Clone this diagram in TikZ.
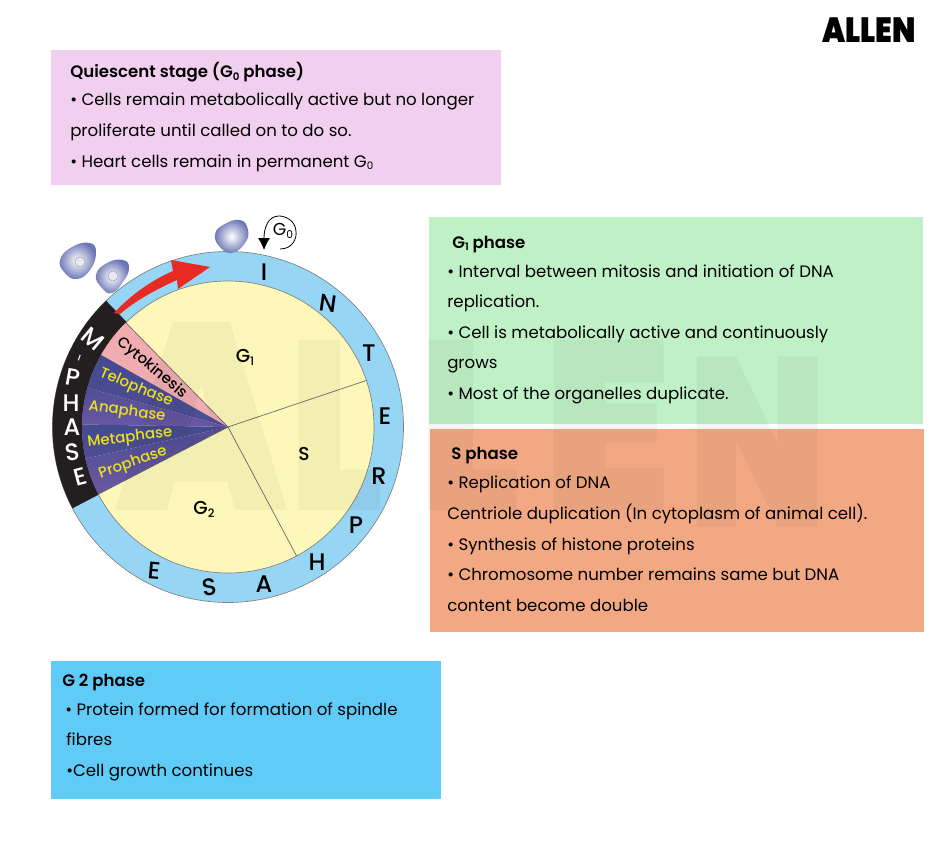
\documentclass[tikz,border=0pt]{standalone}
\usepackage{fontspec}
\setmainfont{Poppins}
\newfontfamily\semifont{Poppins SemiBold}
\newfontfamily\blackfont{Poppins Black}
\newfontfamily\medfont{Poppins Medium}
\usetikzlibrary{arrows.meta}
\definecolor{pinkbox}{HTML}{F1CFEE}
\definecolor{greenbox}{HTML}{C0F1C6}
\definecolor{orangebox}{HTML}{F2A983}
\definecolor{bluebox}{HTML}{5FCBF6}
\definecolor{ringblue}{HTML}{96D5F4}
\definecolor{discyellow}{HTML}{FDF8B9}
\definecolor{wedgepink}{HTML}{F1ACB2}
\definecolor{wedgedark}{HTML}{444A8E}
\definecolor{wedgemid}{HTML}{4F4E94}
\definecolor{wedgelight}{HTML}{6A57A4}
\definecolor{bandblack}{HTML}{231F20}
\definecolor{arrowred}{HTML}{E72A23}
\definecolor{labelyellow}{HTML}{E8E020}
\definecolor{cellblue}{HTML}{5B66AD}
\newcommand{\lowsub}[1]{\raisebox{-.3ex}{\scalebox{.62}{#1}}}
\tikzset{
  linetxt/.style={anchor=base west,inner sep=0pt,font=\fontsize{12.45}{12.45}\selectfont},
  headtxt/.style={linetxt,font=\fontsize{12.45}{12.45}\semifont},
  ringtxt/.style={inner sep=0pt,font=\fontsize{18}{18}\medfont},
  bandtxt/.style={inner sep=0pt,text=white,font=\fontsize{18}{18}\medfont},
  wedgetxt/.style={inner sep=0pt,text=labelyellow,font=\fontsize{11.2}{11.2}\medfont},
  disctxt/.style={inner sep=0pt,font=\fontsize{14}{14}\medfont},
  marktxt/.style={anchor=base west,inner sep=0pt,text=black,text opacity=.04,font=\fontsize{190}{190}\blackfont},
  cellblob/.style={inner color=white,outer color=cellblue!90!white,draw=none}
}
\begin{document}
\begin{tikzpicture}[x=0.75pt,y=-0.75pt]
    \useasboundingbox (0,0) rectangle (940,842);
    % boxes
    \fill[pinkbox] (51,50) rectangle (501,185);
    \fill[greenbox] (429,217) rectangle (923,424);
    \fill[orangebox] (430,429) rectangle (924,632);
    \fill[bluebox] (51,661) rectangle (441,799);
    % cell cycle wheel
    \begin{scope}[shift={(228,427)},y=0.75pt]
        \filldraw[fill=ringblue,draw=gray,line width=0.5pt] (0,0) circle[radius=175.5];
        \filldraw[fill=discyellow,draw=gray,line width=0.5pt] (0,0) circle[radius=146];
        \fill[bandblack] (134:146) arc[start angle=134,end angle=207.6,radius=146]
            -- (207.6:175.5) arc[start angle=207.6,end angle=134,radius=175.5] -- cycle;
        \fill[wedgepink] (0,0) -- (134.4:146) arc[start angle=134.4,end angle=150.4,radius=146] -- cycle;
        \foreach \from/\to/\ctop/\cbot in {150.4/164.5/wedgedark/wedgemid,164.5/179/wedgemid/wedgelight,179/192.5/wedgedark/wedgemid,192.5/207.4/wedgemid/wedgelight}
            \shade[top color=\ctop,bottom color=\cbot] (0,0) -- (\from:146) arc[start angle=\from,end angle=\to,radius=146] -- cycle;
        \draw[gray!80!black,line width=0.5pt] (134.4:146) -- (0,0) -- (18.6:146);
        \draw[gray!80!black,line width=0.5pt] (0,0) -- (-62:146);
        \draw[gray!80!black,line width=0.5pt] (0,0) -- (207.4:146);
    \end{scope}
    % red arrow
    \fill[arrowred] (114,313) .. controls (130,296) and (150,281) .. (173,271) -- (171,260) -- (210,267)
        -- (178,289) -- (177,280) .. controls (155,290) and (135,301) .. (120,314) -- cycle;
    % cells
    \shade[cellblob] plot[smooth cycle,tension=.8] coordinates {(60,260) (72,247) (90,243) (96,253) (90,270) (77,279) (65,273)};
    \shade[cellblob] plot[smooth cycle,tension=.8] coordinates {(96,275) (107,263) (123,260) (129,268) (123,282) (112,293) (102,288)};
    \shade[cellblob] plot[smooth cycle,tension=.8] coordinates {(215,235) (223,225) (240,220) (248,230) (245,243) (232,253) (220,247)};
    \filldraw[fill=white!85!cellblue,draw=gray!70,line width=0.4pt] (80,262) circle[radius=5];
    \filldraw[fill=white!85!cellblue,draw=gray!70,line width=0.4pt] (113,276) circle[radius=5];
    % G0 loop
    \coordinate (g0start) at (280,249);
    \coordinate (g0end) at (264,250);
    \draw[line width=0.6pt,-{Latex[length=9pt,width=9pt]}] (g0start) .. controls (293,249) and (297,238) .. (296,231)
        .. controls (295,220) and (285,216) .. (279,216) .. controls (268,216) and (264,228) .. (g0end);
    \node[disctxt,font=\fontsize{13}{13}\selectfont] (g0) at (283,231) {G\lowsub{0}};
    % watermark
    \node[marktxt,xscale=.88,yscale=1.05] (markA) at (115,510) {A};
    \node[marktxt,xscale=.74,yscale=.95] (markL) at (289,510) {L};
    \node[marktxt,xscale=.8,yscale=.95] (markLL) at (418,510) {L};
    \node[marktxt,xscale=.92,yscale=.95] (markE) at (542,510) {E};
    \node[marktxt,xscale=.7,yscale=.95] (markN) at (688,527) {N};
    % ring letters
    \node[ringtxt] (ltI) at (264,272) {I};
    \node[ringtxt,rotate=-8] (ltN) at (328,303) {N};
    \node[ringtxt] (ltT) at (369,353) {T};
    \node[ringtxt] (ltE) at (385,416) {E};
    \node[ringtxt] (ltR) at (379,476) {R};
    \node[ringtxt] (ltP) at (356,525) {P};
    \node[ringtxt] (ltH) at (317,562) {H};
    \node[ringtxt] (ltA) at (264,584) {A};
    \node[ringtxt,rotate=8] (ltS) at (210,587) {S};
    \node[ringtxt,rotate=-5] (ltEE) at (154,571) {E};
    % m phase band
    \node[bandtxt,rotate=-40] (bdM) at (93,339) {M};
    \node[bandtxt,rotate=70,font=\fontsize{11}{11}\selectfont] (bdDash) at (82,359) {-};
    \node[bandtxt,rotate=-10] (bdP) at (73,378) {P};
    \node[bandtxt] (bdH) at (71,403) {H};
    \node[bandtxt] (bdA) at (72,427) {A};
    \node[bandtxt,rotate=8] (bdS) at (73,452) {S};
    \node[bandtxt,rotate=15] (bdE) at (80,477) {E};
    % wedge labels
    \node[wedgetxt,text=black,rotate=-40] (wgCyto) at (152,368) {Cytokinesis};
    \node[wedgetxt,rotate=-23] (wgTelo) at (136,388) {Telophase};
    \node[wedgetxt,rotate=-8] (wgAna) at (127,412) {Anaphase};
    \node[wedgetxt,rotate=7] (wgMeta) at (130,438) {Metaphase};
    \node[wedgetxt,rotate=20] (wgPro) at (133,463) {Prophase};
    % disc labels
    \node[disctxt] (dcG1) at (245,357) {G\lowsub{1}};
    \node[disctxt] (dcS) at (304,454) {S};
    \node[disctxt] (dcG2) at (204,509) {G\lowsub{2}};
    % logo
    \node[anchor=base west,inner sep=0pt,xscale=.9,yscale=1.05,font=\fontsize{25}{25}\blackfont] (logo) at (822,43) {ALLEN};
    % pink box text
    \node[headtxt] (qsHead) at (70,78) {Quiescent stage (G\lowsub{0} phase)};
    \node[linetxt] (qsA) at (70,106) {• Cells remain metabolically active but no longer};
    \node[linetxt] (qsB) at (70,137) {proliferate until called on to do so.};
    \node[linetxt] (qsC) at (70,167) {• Heart cells remain in permanent G\lowsub{0}};
    % green box text
    \node[headtxt] (gaHead) at (452,248) {G\lowsub{1} phase};
    \node[linetxt] (gaA) at (447,277) {• Interval between mitosis and initiation of DNA};
    \node[linetxt] (gaB) at (447,307) {replication.};
    \node[linetxt] (gaC) at (447,338) {• Cell is metabolically active and continuously};
    \node[linetxt] (gaD) at (447,368) {grows};
    \node[linetxt] (gaE) at (447,399) {• Most of the organelles duplicate.};
    % orange box text
    \node[headtxt] (spHead) at (451,459) {S phase};
    \node[linetxt] (spA) at (447,488) {• Replication of DNA};
    \node[linetxt] (spB) at (447,519) {Centriole duplication (In cytoplasm of animal cell).};
    \node[linetxt] (spC) at (447,550) {• Synthesis of histone proteins};
    \node[linetxt] (spD) at (447,580) {• Chromosome number remains same but DNA};
    \node[linetxt] (spE) at (447,611) {content become double};
    % blue box text
    \node[headtxt] (gbHead) at (62,686) {G 2 phase};
    \node[linetxt] (gbA) at (65,715) {• Protein formed for formation of spindle};
    \node[linetxt] (gbB) at (66,745) {fibres};
    \node[linetxt] (gbC) at (66,776) {•Cell growth continues};
\end{tikzpicture}
\end{document}
